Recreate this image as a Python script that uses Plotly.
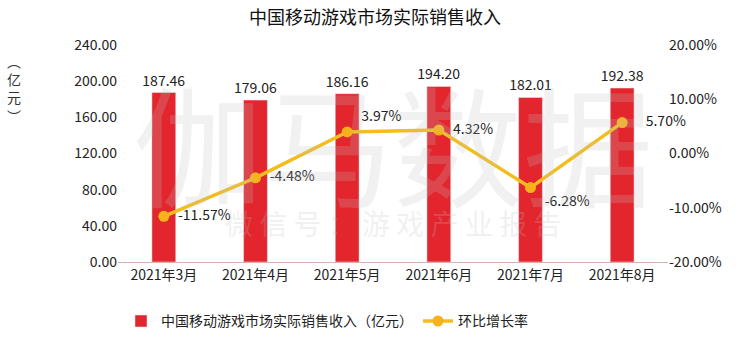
import plotly.graph_objects as go

months = ["2021年3月", "2021年4月", "2021年5月", "2021年6月", "2021年7月", "2021年8月"]
revenue = [187.46, 179.06, 186.16, 194.20, 182.01, 192.38]
growth = [-11.57, -4.48, 3.97, 4.32, -6.28, 5.70]
left_ticks = [0, 40, 80, 120, 160, 200, 240]
right_ticks = [-20, -10, 0, 10, 20]

FONT = "Noto Sans CJK SC"
label_pos = ["middle right", "middle right", "top right", "middle right", "bottom right", "middle right"]
label_pad = ["\u00a0\u00a0", "\u00a0\u00a0", "\u00a0\u00a0", "\u00a0\u00a0", "\u00a0\u00a0", "\u00a0\u00a0\u00a0\u00a0\u00a0"]

fig = go.Figure()
fig.add_trace(go.Bar(
    x=months, y=revenue, name="中国移动游戏市场实际销售收入（亿元）",
    marker_color="#E3262D", width=0.26,
    text=[f"{v:.2f}" for v in revenue], textposition="outside", constraintext="none",
    textfont=dict(size=14, color="#222"), cliponaxis=False,
))
fig.add_trace(go.Scatter(
    x=months, y=growth, name="环比增长率", yaxis="y2",
    mode="lines+markers+text",
    line=dict(color="#F3BD1E", width=3.5),
    marker=dict(color="#F5B21C", size=11),
    text=[p + f"{v:.2f}%" for p, v in zip(label_pad, growth)], textposition=label_pos,
    textfont=dict(size=14, color="#222"), cliponaxis=False,
))

# watermark
fig.add_annotation(text="伽马数据", xref="paper", yref="paper", x=0.5, y=0.56,
                   showarrow=False, font=dict(size=130, color="rgba(190,190,190,0.22)", family=FONT))
fig.add_annotation(text="微 信 号 ： 游 戏 产 业 报 告", xref="paper", yref="paper", x=0.5, y=0.08,
                   showarrow=False, font=dict(size=28, color="rgba(190,190,190,0.22)", family=FONT))
# y axis title
fig.add_annotation(text="︵<br>亿<br>元<br>︶", xref="paper", yref="paper", x=-0.19, y=0.98,
                   xanchor="center", yanchor="top", showarrow=False,
                   font=dict(size=14, color="#333", family=FONT))

fig.update_layout(
    width=750, height=350,
    margin=dict(l=118, r=82, t=45, b=80),
    paper_bgcolor="white", plot_bgcolor="white",
    font=dict(family=FONT, size=14, color="#222"),
    title=dict(text="中国移动游戏市场实际销售收入", x=0.5, y=0.95, xanchor="center", yanchor="middle",
               font=dict(size=18, color="#111", family=FONT)),
    xaxis=dict(showgrid=False, showline=True, linecolor="#d9b0b0", linewidth=1,
               ticks="", tickfont=dict(size=14)),
    yaxis=dict(range=[0, 240], tickvals=left_ticks, ticktext=[f"{v:.2f}" for v in left_ticks],
               showgrid=False, zeroline=False, showline=False, ticks="", ticklen=0,
               tickfont=dict(size=14)),
    yaxis2=dict(range=[-20, 20], tickvals=right_ticks, ticktext=[f"{v:.2f}%" for v in right_ticks],
                overlaying="y", side="right", showgrid=False, zeroline=False, showline=False,
                tickfont=dict(size=14)),
    legend=dict(orientation="h", x=0.38, xanchor="center", y=-0.2, yanchor="top",
                font=dict(size=14), itemwidth=30, tracegroupgap=0),
    showlegend=True,
)
fig.write_html("out.html")
